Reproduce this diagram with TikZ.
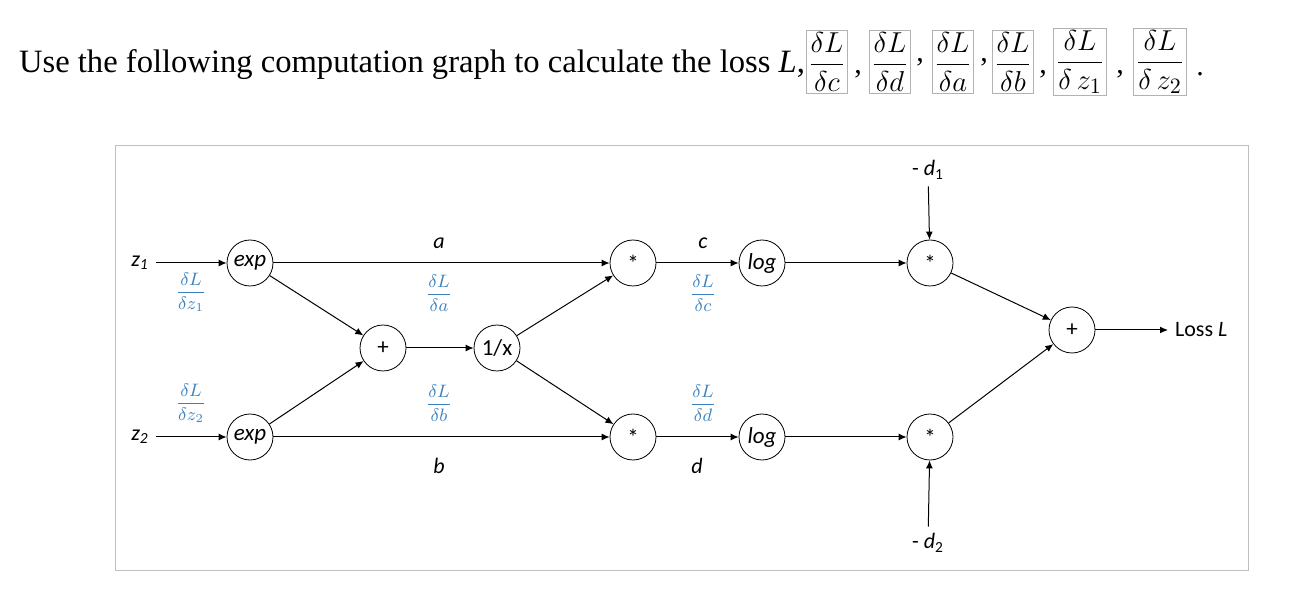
\documentclass[tikz,border=0pt]{standalone}
\usepackage{fontspec}
\setmainfont{Liberation Serif}
\newfontfamily\gf{Carlito}
\usetikzlibrary{arrows.meta}
\definecolor{dblue}{RGB}{60,130,190}
\tikzset{op/.style={circle,draw,minimum size=23pt,inner sep=0pt,font=\gf\fontsize{11.5}{12}\selectfont},
 ar/.style={-{Latex[length=4pt,width=3.5pt]},line width=0.5pt},
 lbl/.style={font=\gf\itshape\fontsize{11}{12}\selectfont},
 bl/.style={text=dblue,font=\fontsize{9}{10}\selectfont},
 bx/.style={draw=gray!60,inner sep=1pt,font=\fontsize{15}{18}\selectfont},
 pu/.style={font=\fontsize{15}{18}\selectfont}}
\newcommand{\dl}[1]{$\displaystyle\frac{\delta L}{\delta #1}$}
\begin{document}
\begin{tikzpicture}[x=0.5pt,y=-0.5pt]
\useasboundingbox (0,0) rectangle (1308,609);
\draw[gray!50] (115,145) rectangle (1248,570);
% title
\node[anchor=west,font=\fontsize{16.3}{19}\selectfont] (t) at (12,65) {Use the following computation graph to calculate the loss \textit{L},};
\node[bx] (f1) at (827,62) {$\displaystyle\frac{\delta L}{\delta c}$};
\node[pu] at (858,74) {,};
\node[bx] (f2) at (890,62) {$\displaystyle\frac{\delta L}{\delta d}$};
\node[pu] at (920,62) {,};
\node[bx] (f3) at (953,62) {$\displaystyle\frac{\delta L}{\delta a}$};
\node[pu] at (984,62) {,};
\node[bx] (f4) at (1013,62) {$\displaystyle\frac{\delta L}{\delta b}$};
\node[pu] at (1043,74) {,};
\node[bx] (f5) at (1080,62) {$\displaystyle\frac{\delta L}{\delta\, z_1}$};
\node[pu] at (1120,74) {,};
\node[bx] (f6) at (1160,62) {$\displaystyle\frac{\delta L}{\delta\, z_2}$};
\node[pu] at (1200,74) {.};
% nodes
\node[op] (e1) at (250,263) {\itshape exp};
\node[op] (e2) at (250,437) {\itshape exp};
\node[op] (p) at (383,348) {+};
\node[op] (inv) at (497,348) {1/x};
\node[op] (m1) at (633,263) {*};
\node[op] (m2) at (633,437) {*};
\node[op] (l1) at (762,263) {\itshape log};
\node[op] (l2) at (762,437) {\itshape log};
\node[op] (r1) at (930,263) {*};
\node[op] (r2) at (930,437) {*};
\node[op] (s) at (1072,330) {+};
\node[lbl] (z1) at (140,263) {z\textsubscript{1}};
\node[lbl] (z2) at (140,437) {z\textsubscript{2}};
\node[anchor=west,font=\gf\fontsize{11}{12}\selectfont] (loss) at (1168,330) {Loss \textit{L}};
\node[font=\gf\fontsize{11}{12}\selectfont] (d1) at (928,170) {- \textit{d}\textsubscript{1}};
\node[font=\gf\fontsize{11}{12}\selectfont] (d2) at (928,543) {- \textit{d}\textsubscript{2}};
\node[lbl] at (439,243) {a};
\node[lbl] at (439,466) {b};
\node[lbl] at (703,243) {c};
\node[lbl] at (697,466) {d};
\node[bl] at (191,292) {\dl{z_1}};
\node[bl] at (191,403) {\dl{z_2}};
\node[bl] at (439,293) {\dl{a}};
\node[bl] at (439,403) {\dl{b}};
\node[bl] at (703,293) {\dl{c}};
\node[bl] at (703,403) {\dl{d}};
% edges
\draw[ar] (z1) -- (e1);
\draw[ar] (z2) -- (e2);
\draw[ar] (e1) -- (m1);
\draw[ar] (e2) -- (m2);
\draw[ar] (e1) -- (p);
\draw[ar] (e2) -- (p);
\draw[ar] (p) -- (inv);
\draw[ar] (inv) -- (m1);
\draw[ar] (inv) -- (m2);
\draw[ar] (m1) -- (l1);
\draw[ar] (m2) -- (l2);
\draw[ar] (l1) -- (r1);
\draw[ar] (l2) -- (r2);
\draw[ar] (d1) -- (r1);
\draw[ar] (d2) -- (r2);
\draw[ar] (r1) -- (s);
\draw[ar] (r2) -- (s);
\draw[ar] (s) -- (loss);
\end{tikzpicture}
\end{document}
